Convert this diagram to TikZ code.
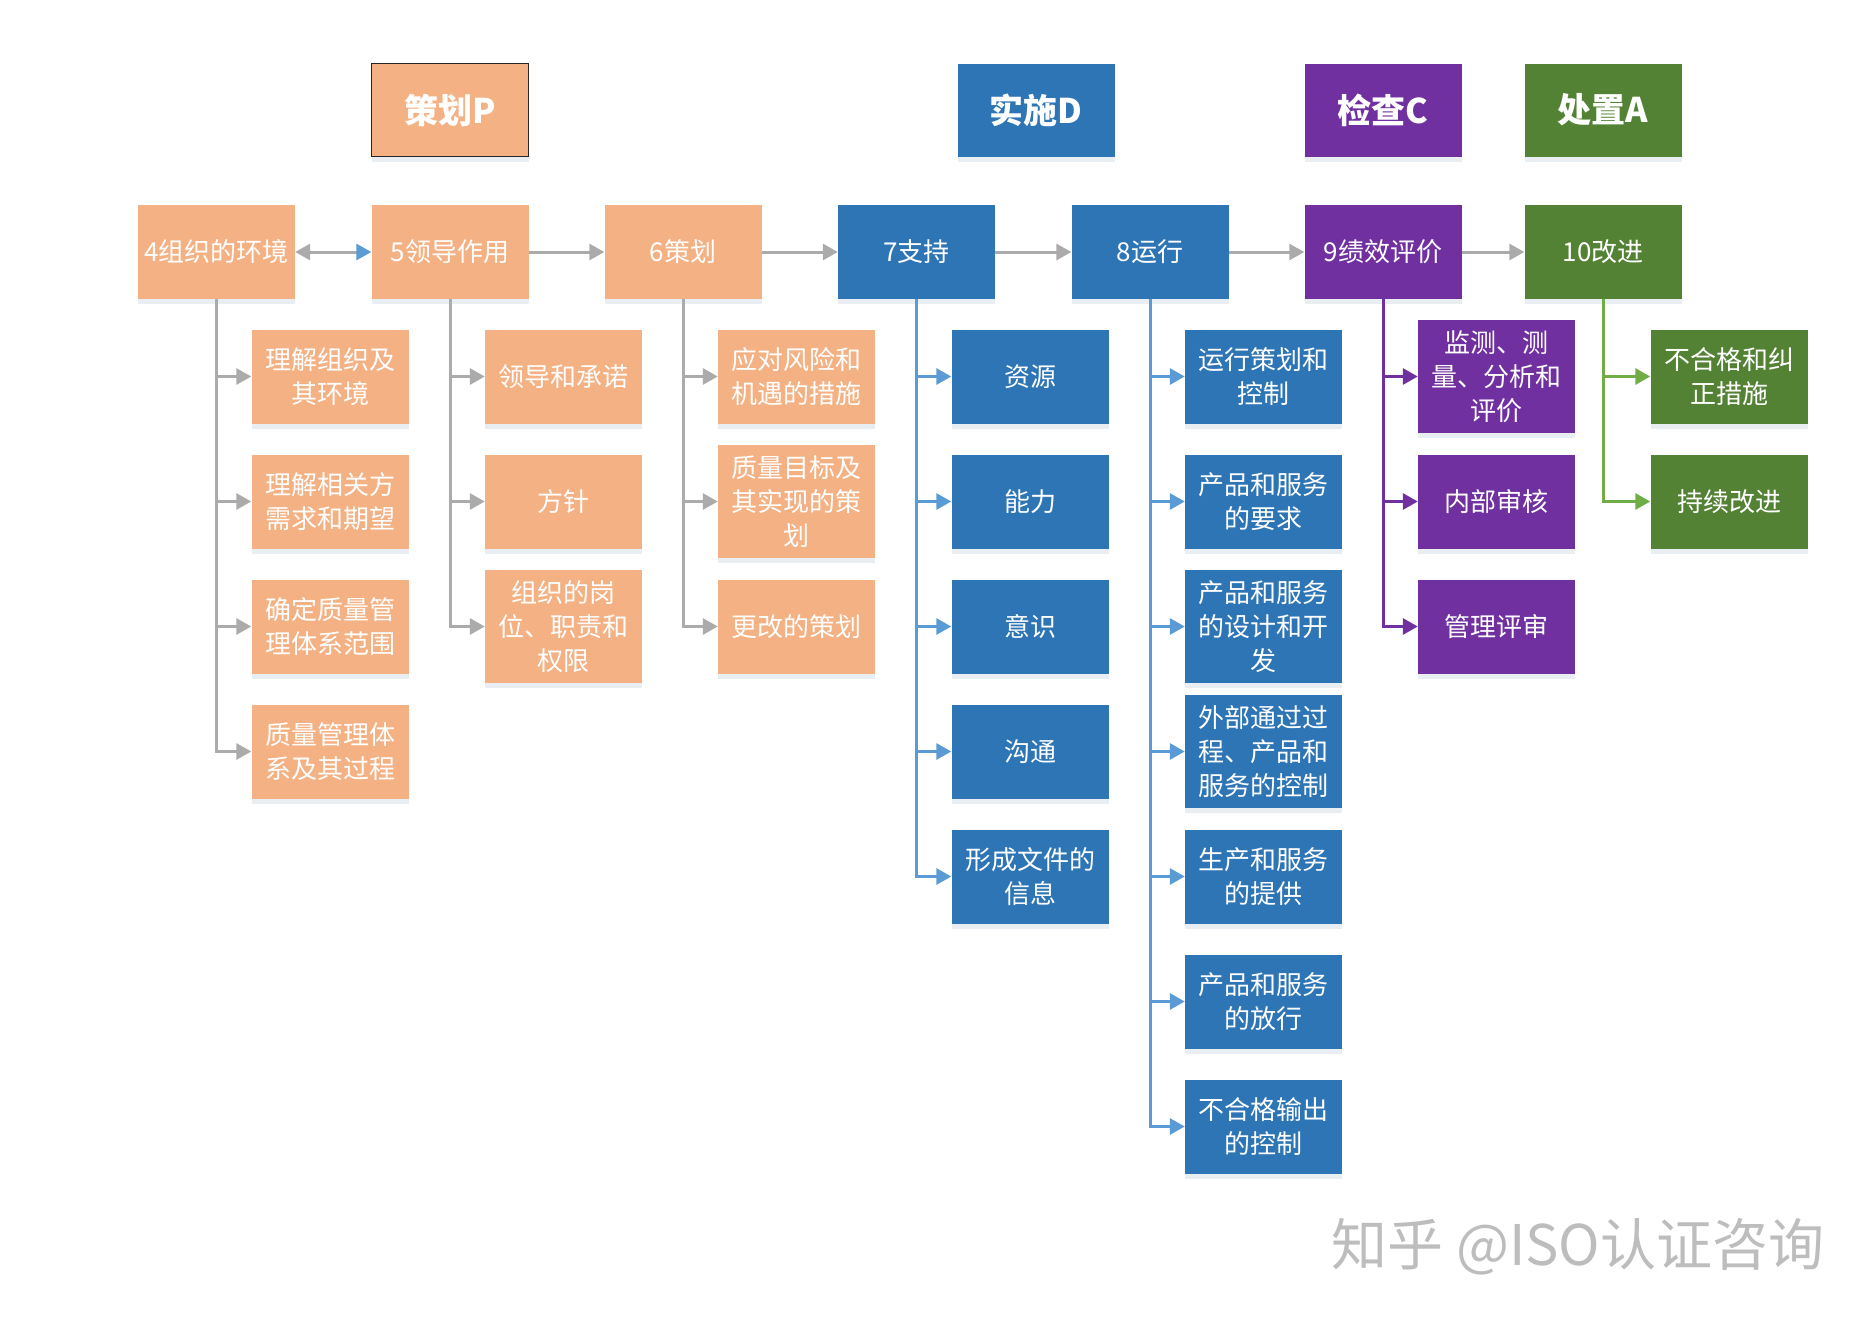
\documentclass[tikz,border=0pt]{standalone}
\usepackage{fontspec}
\setmainfont{Noto Sans CJK SC}
\usepackage{tikz}
\usetikzlibrary{
  arrows.meta,%
  % soft shadows under the boxes
  shadows
}
\definecolor{planorange}{HTML}{F4B183}
\definecolor{doblue}{HTML}{2E75B6}
\definecolor{checkpurple}{HTML}{7030A0}
\definecolor{actgreen}{HTML}{548235}
\definecolor{linegray}{HTML}{ABABAB}
\definecolor{lineblue}{HTML}{5B9BD5}
\definecolor{linepurple}{HTML}{7030A0}
\definecolor{linegreen}{HTML}{70AD47}
\definecolor{markgray}{HTML}{BDBDBD}
\tikzset{>={Triangle[length=15pt,width=16pt]}}
\tikzset{
  box/.style={rectangle, minimum width=157pt, minimum height=94pt, inner sep=2pt,
    align=center, text=white, font=\fontsize{26}{34}\selectfont,
    drop shadow={shadow xshift=0pt, shadow yshift=-5pt, opacity=0.15, fill=lineblue!50!gray}},
  tallbox/.style={minimum height=113pt},
  headbox/.style={box, minimum height=93pt, font=\fontsize{34}{40}\selectfont\bfseries},
  planbox/.style={box, fill=planorange},
  dobox/.style={box, fill=doblue},
  checkbox/.style={box, fill=checkpurple},
  actbox/.style={box, fill=actgreen},
  glink/.style={->, line width=3pt, draw=linegray, >={Triangle[length=15pt,width=16pt,color=linegray]}},
  blink/.style={->, line width=3pt, draw=lineblue},
  plink/.style={->, line width=3pt, draw=linepurple},
  alink/.style={->, line width=3pt, draw=linegreen}
}

\begin{document}
\begin{tikzpicture}[x=1pt, y=-1pt]
  \useasboundingbox (0,0) rectangle (1871,1323);
  % PDCA headers
  \node[headbox, fill=planorange, draw=black!85, line width=1.5pt] (hP) at (450,110) {策划P};
  \node[headbox, fill=doblue] (hD) at (1036,110) {实施D};
  \node[headbox, fill=checkpurple] (hC) at (1383,110) {检查C};
  \node[headbox, fill=actgreen] (hA) at (1603,110) {处置A};
  % clauses
  \node[planbox] (n4) at (216.5,252) {4组织的环境};
  \node[planbox] (n5) at (450,252) {5领导作用};
  \node[planbox] (n6) at (683,252) {6策划};
  \node[dobox] (n7) at (916.5,252) {7支持};
  \node[dobox] (n8) at (1150,252) {8运行};
  \node[checkbox] (n9) at (1383,252) {9绩效评价};
  \node[actbox] (n10) at (1603,252) {10改进};
  % clause 4
  \node[planbox] (s41) at (330,376.5) {理解组织及\\其环境};
  \node[planbox] (s42) at (330,501.5) {理解相关方\\需求和期望};
  \node[planbox] (s43) at (330,626.5) {确定质量管\\理体系范围};
  \node[planbox] (s44) at (330,751.5) {质量管理体\\系及其过程};
  % clause 5
  \node[planbox] (s51) at (563.5,376.5) {领导和承诺};
  \node[planbox] (s52) at (563.5,501.5) {方针};
  \node[planbox, tallbox] (s53) at (563.5,626.5) {组织的岗\\位、职责和\\权限};
  % clause 6
  \node[planbox] (s61) at (796.5,376.5) {应对风险和\\机遇的措施};
  \node[planbox, tallbox] (s62) at (796.5,501.5) {质量目标及\\其实现的策\\划};
  \node[planbox] (s63) at (796.5,626.5) {更改的策划};
  % clause 7
  \node[dobox] (s71) at (1030,376.5) {资源};
  \node[dobox] (s72) at (1030,501.5) {能力};
  \node[dobox] (s73) at (1030,626.5) {意识};
  \node[dobox] (s74) at (1030,751.5) {沟通};
  \node[dobox] (s75) at (1030,876.5) {形成文件的\\信息};
  % clause 8
  \node[dobox] (s81) at (1263.5,376.5) {运行策划和\\控制};
  \node[dobox] (s82) at (1263.5,501.5) {产品和服务\\的要求};
  \node[dobox, tallbox] (s83) at (1263.5,626.5) {产品和服务\\的设计和开\\发};
  \node[dobox, tallbox] (s84) at (1263.5,751.5) {外部通过过\\程、产品和\\服务的控制};
  \node[dobox] (s85) at (1263.5,876.5) {生产和服务\\的提供};
  \node[dobox] (s86) at (1263.5,1001.5) {产品和服务\\的放行};
  \node[dobox] (s87) at (1263.5,1126.5) {不合格输出\\的控制};
  % clause 9
  \node[checkbox, tallbox] (s91) at (1496.5,376.5) {监测、测\\量、分析和\\评价};
  \node[checkbox] (s92) at (1496.5,501.5) {内部审核};
  \node[checkbox] (s93) at (1496.5,626.5) {管理评审};
  % clause 10
  \node[actbox] (s101) at (1729,376.5) {不合格和纠\\正措施};
  \node[actbox] (s102) at (1729,501.5) {持续改进};

  % main chain
  \draw[line width=3pt, draw=linegray,
    {Triangle[length=15pt,width=16pt,color=linegray]}-{Triangle[length=15pt,width=16pt,color=lineblue]}]
    (n4) -- (n5);
  \draw[glink] (n5) -- (n6);
  \draw[glink] (n6) -- (n7);
  \draw[glink] (n7) -- (n8);
  \draw[glink] (n8) -- (n9);
  \draw[glink] (n9) -- (n10);
  % branches
  \foreach \s in {s41,s42,s43,s44} \draw[glink] (n4.south) |- (\s.west);
  \foreach \s in {s51,s52,s53} \draw[glink] (n5.south) |- (\s.west);
  \foreach \s in {s61,s62,s63} \draw[glink] (n6.south) |- (\s.west);
  \foreach \s in {s71,s72,s73,s74,s75} \draw[blink] (n7.south) |- (\s.west);
  \foreach \s in {s81,s82,s83,s84,s85,s86,s87} \draw[blink] (n8.south) |- (\s.west);
  \foreach \s in {s91,s92,s93} \draw[plink] (n9.south) |- (\s.west);
  \foreach \s in {s101,s102} \draw[alink] (n10.south) |- (\s.west);

  \node[text=markgray, font=\fontsize{56}{60}\selectfont] (mark) at (1578,1247) {知乎 @ISO认证咨询};
\end{tikzpicture}
\end{document}
